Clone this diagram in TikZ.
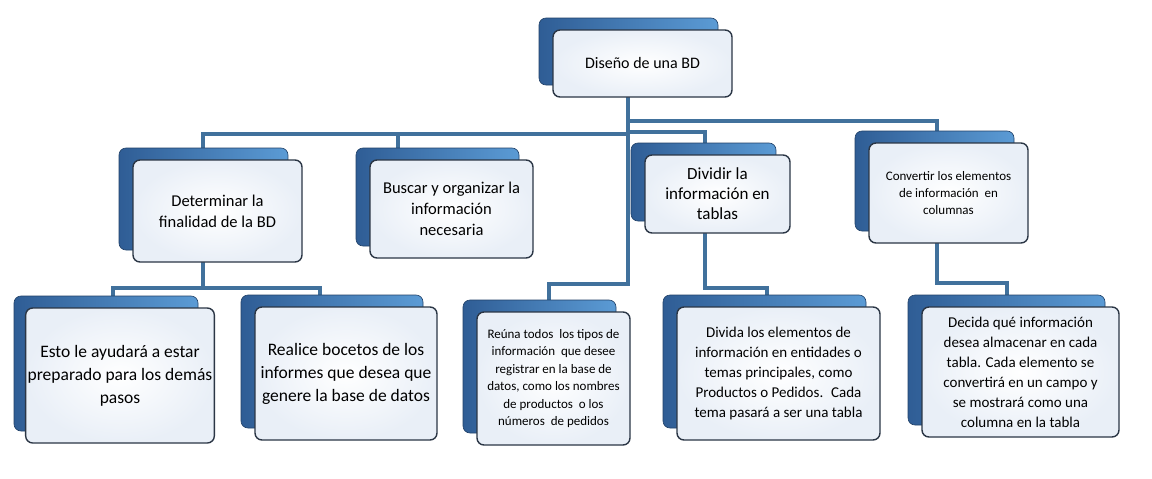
\documentclass[tikz,border=0pt]{standalone}
\usepackage{fontspec}
\setmainfont{Carlito}
\begin{document}
\begin{tikzpicture}[x=1pt,y=-1pt,
  conn/.style={draw=c1,line width=3.4pt},
  backbox/.style={rounded corners=7pt,left color=c3,right color=c2,draw=c3!70!black,line width=0.6pt},
  front/.style={draw=c4,line width=1.4pt,rounded corners=7pt,inner color=white,outer color=c5,align=center,inner sep=2pt}]
\definecolor{c1}{HTML}{41719C}
\definecolor{c2}{HTML}{5B9BD5}
\definecolor{c3}{HTML}{2F5D95}
\definecolor{c4}{HTML}{2B3645}
\definecolor{c5}{HTML}{E9EFF7}
\useasboundingbox (0,0) rectangle (1152,479);
\fill[white] (0,0) rectangle (1152,479);
\newcommand\stk[7]{%
 \draw[backbox] (#2-#4/2-14,#3-#5/2-12) rectangle ++(#4,#5);
 \node[front,minimum width=#4,minimum height=#5,font=#6] (#1) at (#2,#3) {#7};}
% connectors
\draw[conn] (628,97) -- (628,284) -| (549,300);
\draw[conn] (628,121) -| (937,132);
\draw[conn] (628,132) -| (705,145);
\draw[conn] (628,134) -| (203,148);
\draw[conn] (398,134) -- (398,148);
\draw[conn] (705,233) -- (705,288) -| (767,296);
\draw[conn] (937,243) -- (937,283) -| (1007,296);
\draw[conn] (203,262) -- (203,288);
\draw[conn] (113,296) |- (320,288) -- (320,296);
% boxes
\stk{top}{642.5}{63.5}{179}{67}{\fontsize{16}{20}\selectfont}{Diseño de una BD}
\stk{b1}{217.5}{211}{169}{102}{\fontsize{16.5}{21}\selectfont}{Determinar la\\ finalidad de la BD}
\stk{b2}{451.5}{209}{163}{98}{\fontsize{16.5}{21}\selectfont}{Buscar y organizar la\\ información\\ necesaria}
\stk{b3}{717.5}{194}{145}{78}{\fontsize{17}{20}\selectfont}{Dividir la\\ información en\\ tablas}
\stk{b4}{948.5}{193}{159}{100}{\fontsize{13}{17}\selectfont}{Convertir los elementos\\ de información \ en\\ columnas}
\stk{b5}{120}{375.5}{184}{135}{\fontsize{17.5}{23}\selectfont}{Esto le ayudará a estar\\ preparado para los demás\\ pasos}
\stk{b6}{346}{373.5}{182}{133}{\fontsize{17.5}{23}\selectfont}{Realice bocetos de los\\ informes que desea que\\ genere la base de datos}
\stk{b7}{553.5}{378.5}{153}{133}{\fontsize{13}{17.5}\selectfont}{Reúna todos \ los tipos de\\ información \ que desee\\ registrar en la base de\\ datos, como los nombres\\ de productos \ o los\\ números \ de pedidos}
\stk{b8}{778.5}{373.5}{203}{133}{\fontsize{15}{20}\selectfont}{Divida los elementos de\\ información en entidades o\\ temas principales, como\\ Productos o Pedidos. \ Cada\\ tema pasará a ser una tabla}
\stk{b9}{1020.5}{372}{197}{130}{\fontsize{15}{20}\selectfont}{Decida qué información\\ desea almacenar en cada\\ tabla. Cada elemento se\\ convertirá en un campo y\\ se mostrará como una\\ columna en la tabla}
\end{tikzpicture}
\end{document}
